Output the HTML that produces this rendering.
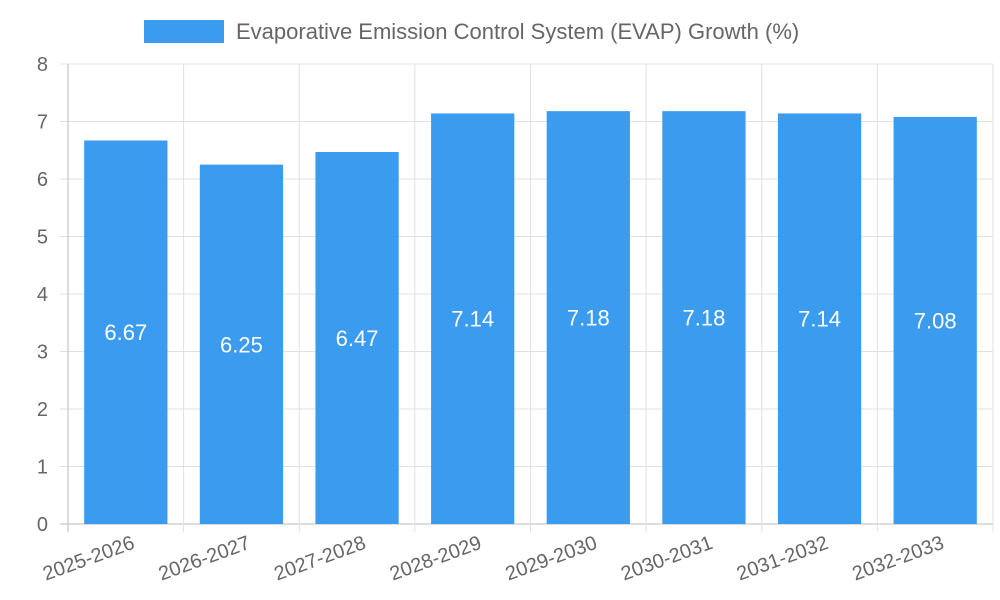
<!DOCTYPE html>
<html><head><meta charset="utf-8"><style>
body{margin:0;background:#fff}
svg{display:block;font-family:"Liberation Sans",sans-serif}
</style></head><body>
<svg id="chart" width="1000" height="600"></svg>
<script>
const categories=["2025-2026","2026-2027","2027-2028","2028-2029","2029-2030","2030-2031","2031-2032","2032-2033"];
const values=[6.67,6.25,6.47,7.14,7.18,7.18,7.14,7.08];
const yTicks=[0,1,2,3,4,5,6,7,8];
const svg=document.getElementById('chart');
const NS="http://www.w3.org/2000/svg";
const L=68,R=993,T=64,B=524,yMax=8;
const cw=(R-L)/categories.length;
const y=v=>B-(v/yMax)*(B-T);
const x=i=>L+i*cw;
function mk(tag,attrs,parent){const e=document.createElementNS(NS,tag);for(const k in attrs)e.setAttribute(k,attrs[k]);(parent||svg).appendChild(e);return e;}
// legend
const lg=mk('g',{});


const lb=mk('rect',{x:144,y:20,width:80,height:23,fill:'#3a9bef'},lg);


const lt=mk('text',{x:236,y:39,'font-size':22,fill:'#666'},lg);
lt.textContent="Evaporative Emission Control System (EVAP) Growth (%)";


// grid y
yTicks.forEach(t=>{
  const g=mk('line',{x1:60,x2:R,y1:y(t),y2:y(t),stroke:t===0?'#bbb':'#e0e0e0','stroke-width':1});
  
  
  const tx=mk('text',{x:48,y:y(t)+7,'font-size':20,fill:'#666','text-anchor':'end'});
  tx.textContent=t;
  
  
});
// grid x
for(let i=0;i<=categories.length;i++){
  const g=mk('line',{x1:x(i),x2:x(i),y1:T,y2:B+8,stroke:i===0?'#bbb':'#e0e0e0','stroke-width':1});
  
  
}
// bars
categories.forEach((c,i)=>{
  const bw=cw*0.72,bx=x(i)+(cw-bw)/2;
  const r=mk('rect',{x:bx,y:y(values[i]),width:bw,height:B-y(values[i]),fill:'#3a9bef'});
  
  
  const v=mk('text',{x:bx+bw/2,y:(y(values[i])+B)/2+8,'font-size':22,fill:'#fff','text-anchor':'middle'});
  v.textContent=values[i];
  
  
  const cx=x(i)+cw/2+10,cy=B+24;
  const t=mk('text',{x:cx,y:cy,'font-size':20,fill:'#666','text-anchor':'end',transform:`rotate(-20 ${cx} ${cy})`});
  t.textContent=c;
  
  
});
</script>
</body></html>
